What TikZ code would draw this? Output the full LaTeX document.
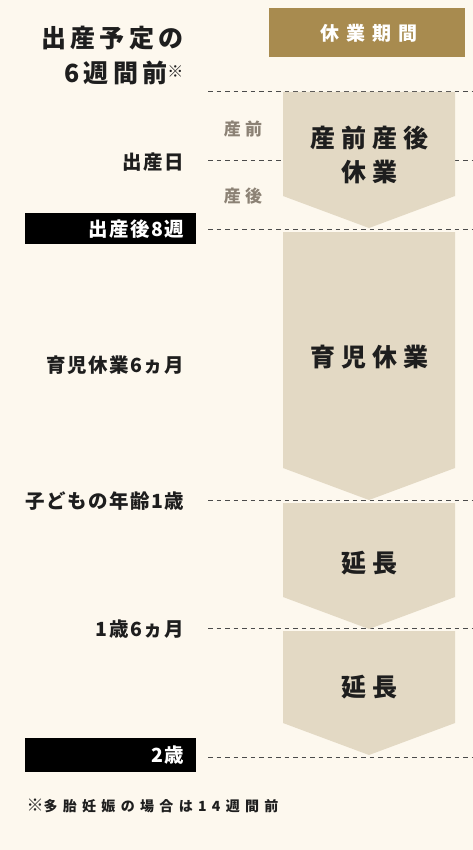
\documentclass[tikz,border=0pt]{standalone}
\usepackage{fontspec}
\newfontfamily\jp{Noto Sans CJK JP}
\definecolor{paper}{HTML}{FDF8EE}
\definecolor{gold}{HTML}{A88B4F}
\definecolor{sand}{HTML}{E3D9C4}
\definecolor{ink}{HTML}{1E1E1E}
\definecolor{dim}{HTML}{8C8275}
\tikzset{
  chevron/.pic={
	\fill[sand] (0,0) -- (172,0) -- (172,#1) -- (86,#1+32) -- (0,#1) -- cycle;
  },
  guide/.style={draw=ink!80, line width=1pt, dash pattern=on 4.5pt off 4pt},
  datelabel/.style={anchor=east, text=ink, font={\jp\bfseries\fontsize{19.5}{23}\selectfont\addfontfeature{LetterSpace=8}}},
  sublabel/.style={text=dim, font={\jp\bfseries\fontsize{17}{21}\selectfont\addfontfeature{LetterSpace=25}}},
  periodlabel/.style={text=ink, align=center, font={\jp\bfseries\fontsize{25}{34}\selectfont\addfontfeature{LetterSpace=24}}},
	}
\begin{document}
\begin{tikzpicture}[x=1pt,y=-1pt]
%
\def\xl{208}
\def\xa{283}
\def\xm{369}
\def\xr{188}
%
\fill[paper] (0,0) rectangle (473,850);
\useasboundingbox (0,0) rectangle (473,850);
%
\foreach \y in {92,161,229,500,628,757}
  \draw[guide] (\xl,\y) -- (473,\y);
%
\pic at (\xa,92) {chevron=104};
\pic at (\xa,232) {chevron=236};
\pic at (\xa,503) {chevron=94};
\pic at (\xa,631) {chevron=92};
%
\fill[gold] (269,8) rectangle (465,57);
\node[text=white, font={\jp\bfseries\fontsize{19}{23}\selectfont\addfontfeature{LetterSpace=36}}] (head) at (369,33) {休業期間};
%
\node[anchor=east, align=right, text=ink, font={\jp\bfseries\fontsize{25}{35}\selectfont\addfontfeature{LetterSpace=17}}] (start) at (187,55)
  {出産予定の\\6週間前\raisebox{5pt}{\fontsize{16}{16}\selectfont ※}};
%
\node[sublabel] (pre) at (243,129) {産前};
\node[sublabel] (post) at (243,196) {産後};
\node[datelabel] (birth) at (\xr,162) {出産日};
\node[periodlabel] (mat) at (\xm,155) {産前産後\\休業};
%
\fill[black] (25,213) rectangle (196,244);
\node[datelabel, text=white] (w8) at (\xr,229) {出産後8週};
%
\node[periodlabel] (care) at (\xm,357) {育児休業};
\node[datelabel] (m6) at (\xr,365) {育児休業6ヵ月};
\node[datelabel] (y1) at (\xr,501) {子どもの年齢1歳};
%
\node[periodlabel] (ext1) at (\xm,563) {延長};
\node[datelabel] (y15) at (\xr,629) {1歳6ヵ月};
\node[periodlabel] (ext2) at (\xm,687) {延長};
%
\fill[black] (25,738) rectangle (196,772);
\node[datelabel, text=white] (y2) at (\xr,755) {2歳};
%
\node[anchor=west, text=ink, font={\jp\bfseries\fontsize{14}{17}\selectfont\addfontfeature{LetterSpace=38}}] (note) at (23,806) {{\fontsize{17}{17}\selectfont ※}多胎妊娠の場合は14週間前};
%
\end{tikzpicture}
\end{document}
